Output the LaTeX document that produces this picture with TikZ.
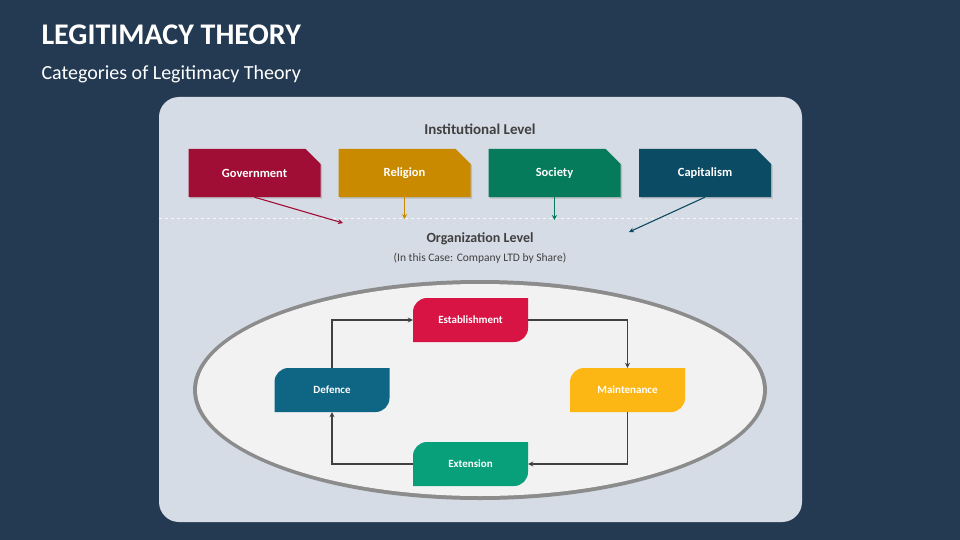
\documentclass[tikz,border=0pt]{standalone}
\usepackage{fontspec}
\setmainfont{Carlito}
\usetikzlibrary{arrows.meta,shadows}
\definecolor{bg}{HTML}{243A52}
\definecolor{panel}{HTML}{D6DCE5}
\definecolor{cgov}{HTML}{A10E35}
\definecolor{crel}{HTML}{C98A00}
\definecolor{csoc}{HTML}{067B5C}
\definecolor{ccap}{HTML}{0B4B63}
\definecolor{cest}{HTML}{D81444}
\definecolor{cmai}{HTML}{FDB714}
\definecolor{cext}{HTML}{08A07A}
\definecolor{cdef}{HTML}{0F6584}
\definecolor{txt}{HTML}{404040}
\tikzset{
  inst/.style={font=\bfseries\fontsize{12.5}{14}\selectfont, text=white, minimum width=132pt, minimum height=48pt, inner sep=0pt},
  cyc/.style={font=\bfseries\fontsize{11}{13}\selectfont, text=white, minimum width=115pt, minimum height=44pt, inner sep=0pt},
  conn/.style={draw=black!75, line width=1.2pt, -{Stealth[length=5pt,width=5pt]}},
  tarr/.style={line width=1.1pt, -{Stealth[length=5pt,width=5pt]}}
}
\newcommand{\foldbox}[2]{%
  \fill[#2, drop shadow={shadow xshift=1.5pt,shadow yshift=-1.5pt,opacity=.35}] ([xshift=-66pt,yshift=24pt]#1) -- ([xshift=51pt,yshift=24pt]#1) -- ([xshift=66pt,yshift=9pt]#1) -- ([xshift=66pt,yshift=-24pt]#1) -- ([xshift=-66pt,yshift=-24pt]#1) -- cycle;}
\newcommand{\leafbox}[2]{%
  \fill[#2] ([xshift=-57.5pt,yshift=-22pt]#1) -- ([xshift=-57.5pt,yshift=8pt]#1) arc[start angle=180,end angle=90,radius=14pt] -- ([xshift=57.5pt,yshift=22pt]#1) -- ([xshift=57.5pt,yshift=-8pt]#1) arc[start angle=0,end angle=-90,radius=14pt] -- cycle;}
\begin{document}
\begin{tikzpicture}[x=1pt,y=-1pt]
\fill[bg] (0,0) rectangle (960,540);
\useasboundingbox (0,0) rectangle (960,540);
\node[anchor=west, text=white, font=\bfseries\fontsize{30}{34}\selectfont] (title) at (38,35) {LEGITIMACY THEORY};
\node[anchor=west, text=white, font=\fontsize{20}{24}\selectfont] (sub) at (38,74) {Categories of Legitimacy Theory};
\fill[panel, rounded corners=20pt] (159,97) rectangle (802,522);
\draw[white!70!panel, dashed, line width=0.6pt] (159,218) -- (802,218);
\node[font=\bfseries\fontsize{15}{18}\selectfont, text=txt] (inst) at (480,129) {Institutional Level};
\foldbox{254.5,173}{cgov}
\foldbox{404.5,173}{crel}
\foldbox{554.5,173}{csoc}
\foldbox{705,173}{ccap}
\node[inst] (gov) at (254.5,173) {Government};
\node[inst] (rel) at (404.5,173) {Religion};
\node[inst] (soc) at (554.5,173) {Society};
\node[inst] (cap) at (705,173) {Capitalism};
\node[font=\bfseries\fontsize{14}{17}\selectfont, text=txt] (org) at (480,239) {Organization Level};
\node[font=\fontsize{11.5}{14}\selectfont, text=txt] (case) at (480,258) {(In this Case: Company LTD by Share)};
\coordinate (g2) at (343,223);
\coordinate (r2) at (404.5,219);
\coordinate (s2) at (554.5,220);
\coordinate (c2) at (629,232);
\draw[tarr, cgov] (gov.south) -- (g2);
\draw[tarr, crel] (rel.south) -- (r2);
\draw[tarr, csoc] (soc.south) -- (s2);
\draw[tarr, ccap] (cap.south) -- (c2);
\fill[black!45] (480,390) ellipse[x radius=287pt, y radius=110pt];
\fill[black!5] (480,390) ellipse[x radius=283pt, y radius=106pt];
\leafbox{470.5,320}{cest}
\leafbox{627.5,390}{cmai}
\leafbox{470.5,464}{cext}
\leafbox{332,390}{cdef}
\node[cyc] (est) at (470.5,320) {Establishment};
\node[cyc] (mai) at (627.5,390) {Maintenance};
\node[cyc] (ext) at (470.5,464) {Extension};
\node[cyc] (def) at (332,390) {Defence};
\draw[conn] (est.east) -| (mai.north);
\draw[conn] (mai.south) |- (ext.east);
\draw[conn] (ext.west) -| (def.south);
\draw[conn] (def.north) |- (est.west);
\end{tikzpicture}
\end{document}
